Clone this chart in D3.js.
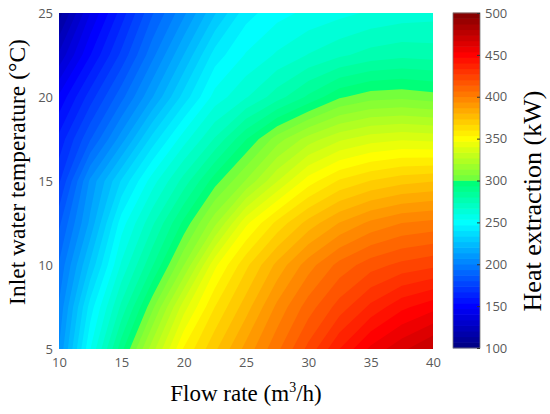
<!DOCTYPE html>
<html><head><meta charset="utf-8">
<script src="https://cdn.jsdelivr.net/npm/d3@7"></script>
<style>html,body{margin:0;padding:0;background:#fff;} svg{display:block;}</style>
</head><body><svg id="chart" width="550" height="414"></svg>
<script>
// ---- data ----
const flowRates  = [10, 12.5, 15, 17.5, 20, 22.5, 25, 27.5, 30, 32.5, 35, 37.5, 40];   // m3/h
const inletTemps = [5, 7.5, 10, 12.5, 15, 17.5, 20, 22.5, 25];                         // °C
// heat extraction (kW), one array per inlet temperature, across flowRates
const heatT05   = [207, 253, 291, 324, 354, 372, 389, 405, 422, 440, 455, 465, 474];
const heatT07_5 = [201, 243, 275, 305, 337, 360, 377, 395, 410, 423, 435, 445, 451];
const heatT10   = [194, 228, 261, 286, 313, 345, 365, 382, 397, 409, 417, 422, 425];
const heatT12_5 = [185, 215, 250, 272, 295, 318, 345, 362, 376, 387, 395, 400, 402];
const heatT15   = [172, 208, 234, 257, 276, 297, 314, 333, 350, 361, 367, 371, 373];
const heatT17_5 = [162, 186, 210, 236, 257, 274, 293, 310, 323, 332, 337, 339, 338];
const heatT20   = [148, 170, 191, 213, 236, 256, 266, 277, 288, 299, 304, 305, 303];
const heatT22_5 = [128, 153, 175, 198, 220, 243, 254, 261, 267, 272, 276, 278, 277];
const heatT25   = [110, 140, 163, 186, 205, 226, 244, 251, 255, 258, 261, 263, 264];
const heatRows = [heatT05, heatT07_5, heatT10, heatT12_5, heatT15, heatT17_5, heatT20, heatT22_5, heatT25];

const xTickValues = [10, 15, 20, 25, 30, 35, 40];
const yTickValues = [5, 10, 15, 20, 25];
const colorTickValues = [100, 150, 200, 250, 300, 350, 400, 450, 500];
const colorDomain = [100, 500];
const levelCount = 60;

// colormap (jet-like, as in the colorbar)
const cmapStops  = [100, 150, 200, 250, 285, 300, 300.01, 350, 400, 450, 500];
const cmapColors = ['#00007f','#0000ff','#0080ff','#00ffff','#00ff98','#00ff70','#6aff40','#ffff00','#ff8000','#ff0000','#800000'];

// ---- drawing ----
const svg = d3.select('#chart');
const P = {left: 59, right: 433, top: 13, bottom: 349};
const x = d3.scaleLinear().domain([10, 40]).range([P.left, P.right]);
const y = d3.scaleLinear().domain([5, 25]).range([P.bottom, P.top]);
const cmap = d3.scaleLinear().domain(cmapStops).range(cmapColors).clamp(true);

const step = (colorDomain[1] - colorDomain[0]) / levelCount;
const levels = d3.range(levelCount).map(i => colorDomain[0] + i * step);
const bandColor = v => cmap(v + step / 2);

const nx = flowRates.length, ny = inletTemps.length;
const values = heatRows.flat();
const contours = d3.contours().size([nx, ny]).thresholds(levels)(values);
const dF = flowRates[1] - flowRates[0], dT = inletTemps[1] - inletTemps[0];
const proj = d3.geoTransform({
  point(px, py) {
    this.stream.point(x(flowRates[0] + (px - 0.5) * dF), y(inletTemps[0] + (py - 0.5) * dT));
  }
});
const path = d3.geoPath(proj);

svg.append('defs').append('clipPath').attr('id', 'clip')
  .append('rect').attr('x', P.left).attr('y', P.top)
  .attr('width', P.right - P.left).attr('height', P.bottom - P.top);

svg.append('g').attr('clip-path', 'url(#clip)')
  .selectAll('path').data(contours).join('path')
  .attr('d', path)
  .attr('fill', d => bandColor(d.value));

const tickFont = g => g.selectAll('text')
  .attr('font-family', '"Open Sans", "DejaVu Sans", sans-serif')
  .attr('font-size', 13).attr('fill', '#5a5a5a');

// x axis
svg.append('g').attr('transform', `translate(0,${P.bottom})`)
  .call(d3.axisBottom(x).tickValues(xTickValues).tickSize(0).tickPadding(9))
  .call(g => g.select('.domain').remove())
  .call(tickFont);

// y axis
svg.append('g').attr('transform', `translate(${P.left},0)`)
  .call(d3.axisLeft(y).tickValues(yTickValues).tickSize(0).tickPadding(6))
  .call(g => g.select('.domain').remove())
  .call(tickFont);

// colorbar
const CB = {x0: 453, x1: 480};
const cy = d3.scaleLinear().domain(colorDomain).range([348, 13]);
svg.append('g').selectAll('rect').data(levels).join('rect')
  .attr('x', CB.x0).attr('width', CB.x1 - CB.x0)
  .attr('y', d => cy(d + step) - 0.3)
  .attr('height', d => cy(d) - cy(d + step) + 0.6)
  .attr('fill', d => bandColor(d));
svg.append('rect').attr('x', CB.x0).attr('y', cy(colorDomain[1]))
  .attr('width', CB.x1 - CB.x0).attr('height', cy(colorDomain[0]) - cy(colorDomain[1]))
  .attr('fill', 'none').attr('stroke', '#777').attr('stroke-width', 0.8);
svg.append('g').attr('transform', `translate(${CB.x1},0)`)
  .call(d3.axisRight(cy).tickValues(colorTickValues).tickSizeInner(-3).tickSizeOuter(0).tickPadding(5))
  .call(g => g.select('.domain').remove())
  .call(g => g.selectAll('line').attr('stroke', '#333'))
  .call(tickFont);

// titles
const serif = '"Liberation Serif", "Times New Roman", serif';
const xt = svg.append('text').attr('x', (P.left + P.right) / 2).attr('y', 401)
  .attr('text-anchor', 'middle').attr('font-family', serif).attr('font-size', 23).attr('fill', '#000');
xt.append('tspan').text('Flow rate (m');
xt.append('tspan').attr('font-size', 14).attr('dy', -9).text('3');
xt.append('tspan').attr('dy', 9).text('/h)');

svg.append('text').attr('transform', 'translate(25,172) rotate(-90)')
  .attr('text-anchor', 'middle').attr('font-family', serif).attr('font-size', 23.5).attr('fill', '#000')
  .text('Inlet water temperature (°C)');

svg.append('text').attr('transform', 'translate(541,201) rotate(-90)')
  .attr('text-anchor', 'middle').attr('font-family', serif).attr('font-size', 26).attr('fill', '#000')
  .text('Heat extraction (kW)');
</script>
</body></html>
